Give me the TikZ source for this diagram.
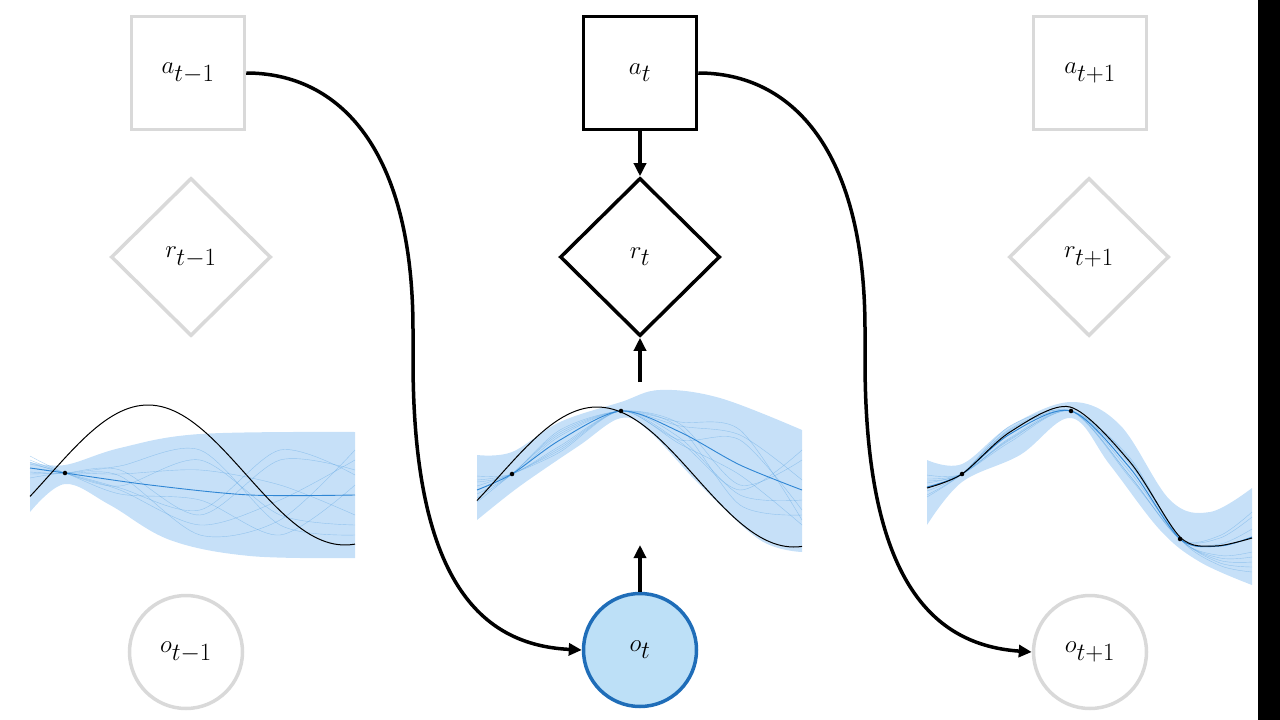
\documentclass[tikz,border=0pt]{standalone}
\usetikzlibrary{arrows.meta,shapes.geometric}
\definecolor{lg}{HTML}{D9D9D9}
\definecolor{band}{HTML}{C6E0F8}
\definecolor{samp}{HTML}{5EA6E3}
\definecolor{meanc}{HTML}{2F86D4}
\definecolor{ofill}{HTML}{BDE0F7}
\definecolor{oline}{HTML}{1F6DB8}
\begin{document}
\begin{tikzpicture}[x=1pt,y=-1pt,
  lab/.style={font=\fontsize{34}{40}\selectfont,text=black},
  sq/.style={draw,line width=3.5pt,minimum size=113pt,lab},
  dia/.style={draw,diamond,line width=3.5pt,minimum width=160pt,minimum height=158pt,inner sep=0pt,lab},
  circ/.style={draw,circle,line width=3.5pt,minimum size=113pt,lab},
  faded/.style={draw=lg},
  conn/.style={line width=3.5pt,-{Triangle[length=13pt,width=12pt]}},
  sampst/.style={draw=samp,line width=0.4pt,opacity=0.5},
  meanst/.style={draw=meanc,line width=0.9pt},
  truth/.style={draw=black,line width=1pt},
  dot/.style={fill=black,circle,inner sep=1.6pt}]
\useasboundingbox (0,0) rectangle (1280,720);
\fill[black] (1258,0) rectangle (1280,720);
% nodes
\node[sq,faded] (a1) at (188,73) {$a_{t-1}$};
\node[sq] (a2) at (640,73) {$a_t$};
\node[sq,faded] (a3) at (1090,73) {$a_{t+1}$};
\node[dia,faded] (r1) at (191,257) {$r_{t-1}$};
\node[dia] (r2) at (640,257) {$r_t$};
\node[dia,faded] (r3) at (1089,257) {$r_{t+1}$};
\node[circ,faded] (o1) at (186,652) {$o_{t-1}$};
\node[circ,draw=oline,fill=ofill] (o2) at (640,650) {$o_t$};
\node[circ,faded] (o3) at (1090,652) {$o_{t+1}$};
% left plot
\fill[band] plot[smooth,tension=0.6] coordinates {(30,462) (65,465) (120,448) (200,434) (355,432)} -- plot[smooth,tension=0.6] coordinates {(355,558) (250,556) (170,540) (110,505) (65,484) (30,512)} -- cycle;
\foreach \a/\b/\c/\d in {-8/6/-30/20, 6/-10/25/-35, -4/14/10/40, 10/-6/-20/-10, -12/10/35/5, 4/-14/-40/30, 0/8/20/-45, -6/-4/45/25}{
  \draw[sampst] plot[smooth] coordinates {(30,468+\a) (65,473) (120,480+\b) (200,490+\c) (280,495+\d) (355,495-\c)};}
\draw[meanst] plot[smooth] coordinates {(30,468) (65,473) (150,485) (250,495) (355,495)};
\draw[truth] plot[domain=30:355,samples=80] (\x,{475-70*cos((\x-148)/197*180)});
\node[dot] (p1) at (65,473) {};
% middle plot
\fill[band] plot[smooth,tension=0.6] coordinates {(477,455) (512,452) (560,422) (621,402) (660,390) (720,398) (802,430)} -- plot[smooth,tension=0.6] coordinates {(802,552) (760,540) (700,485) (650,432) (621,418) (580,445) (540,472) (512,492) (477,520)} -- cycle;
\foreach \a/\b/\c/\d in {-10/8/-25/20, 8/-8/20/-30, -4/12/10/35, 12/-6/-30/-10, -14/6/30/10, 4/-10/-35/30, 0/10/25/-40, -8/-4/40/25}{
  \draw[sampst] plot[smooth] coordinates {(477,490+\a) (512,474) (560,440+\b) (621,411) (680,432+\b) (740,465+\c) (802,490+\d)};}
\draw[meanst] plot[smooth] coordinates {(477,490) (512,474) (560,440) (621,411) (680,432) (740,465) (802,490)};
\draw[truth] plot[domain=477:802,samples=80] (\x,{477-70*cos((\x-597)/197*180)});
\node[dot] (p2) at (512,474) {};
\node[dot] (p3) at (621,411) {};
% right plot
\fill[band] plot[smooth,tension=0.6] coordinates {(927,460) (962,464) (1010,426) (1071,402) (1120,425) (1170,500) (1210,512) (1252,488)} -- plot[smooth,tension=0.6] coordinates {(1252,585) (1200,562) (1160,530) (1110,465) (1071,418) (1020,455) (962,482) (927,525)} -- cycle;
\foreach \a/\b/\c/\d in {-8/5/-8/15, 8/-5/8/-20, -4/8/4/25, 10/-4/-10/-8, -12/4/10/30, 4/-8/-6/35, 0/6/8/-25, -6/-3/-4/20}{
  \draw[sampst] plot[smooth] coordinates {(927,487+\a) (962,474) (1010,434+\b) (1071,411) (1130,468+\c) (1180,539) (1220,548+\d/2) (1252,537+\d)};}
\draw[meanst] plot[smooth] coordinates {(927,487) (962,474) (1010,434) (1071,411) (1130,468) (1180,539) (1220,546) (1252,537)};
\draw[truth] plot[smooth] coordinates {(927,488) (962,474) (1010,432) (1070,407) (1130,462) (1180,537) (1215,546) (1252,538)};
\node[dot] (p4) at (962,474) {};
\node[dot] (p5) at (1071,411) {};
\node[dot] (p6) at (1180,539) {};
% connectors
\coordinate (m1) at (640,382);
\coordinate (m3) at (640,545);
\draw[conn] (a2) -- (r2);
\draw[conn] (m1) -- (r2.south);
\draw[conn] (o2.north) -- (m3);
\draw[conn] (a1.east) .. controls (340,73) and (413,150) .. (413,330) -- (413,360) .. controls (413,580) and (480,645) .. (o2.west);
\draw[conn] (a2.east) .. controls (792,73) and (865,150) .. (865,330) -- (865,360) .. controls (865,580) and (932,645) .. (o3.west);
\end{tikzpicture}
\end{document}
